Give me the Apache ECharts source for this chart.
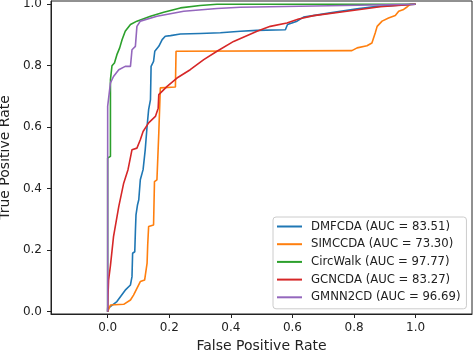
<!DOCTYPE html>
<html style="height: 100%">
<head>
    <meta charset="utf-8">
    <script src="https://cdn.jsdelivr.net/npm/echarts@6/dist/echarts.min.js"></script>
</head>
<body style="height:100%;margin:0">
    <div id="main" style="width:474px;height:353px;"></div>
    <script type="text/javascript">

        // ROC curves, points read as [fpr, tpr]
        var names = ['DMFCDA (AUC = 83.51)', 'SIMCCDA (AUC = 73.30)', 'CircWalk (AUC = 97.77)',
                     'GCNCDA (AUC = 83.27)', 'GMNN2CD (AUC = 96.69)'];
        var colors = ['#1f77b4', '#ff7f0e', '#2ca02c', '#d62728', '#9467bd'];
        var tickValues = [0, 0.2, 0.4, 0.6, 0.8, 1.0];

        var dmfcda = [[0,0],[0,0.01],[0.03,0.033],[0.057,0.07],[0.074,0.087],[0.079,0.114],[0.081,0.19],
            [0.088,0.195],[0.09,0.26],[0.092,0.315],[0.097,0.348],[0.101,0.364],[0.104,0.364],[0.106,0.429],
            [0.115,0.462],[0.122,0.527],[0.128,0.603],[0.133,0.657],[0.139,0.69],[0.141,0.798],[0.149,0.814],
            [0.153,0.847],[0.166,0.863],[0.177,0.885],[0.187,0.896],[0.204,0.898],[0.236,0.903],[0.3,0.905],
            [0.366,0.907],[0.431,0.912],[0.485,0.915],[0.577,0.917],[0.584,0.934],[0.615,0.945],[0.636,0.958],
            [0.723,0.972],[0.81,0.985],[0.875,0.993],[1,1]];

        var simccda = [[0,0],[0.009,0.022],[0.052,0.024],[0.074,0.038],[0.084,0.054],[0.095,0.076],
            [0.106,0.098],[0.12,0.103],[0.128,0.158],[0.13,0.217],[0.133,0.277],[0.149,0.282],[0.152,0.282],
            [0.152,0.423],[0.16,0.429],[0.164,0.429],[0.166,0.581],[0.171,0.581],[0.171,0.728],[0.22,0.731],
            [0.222,0.731],[0.222,0.847],[0.793,0.849],[0.81,0.858],[0.842,0.865],[0.858,0.874],[0.869,0.907],
            [0.875,0.928],[0.891,0.945],[0.912,0.955],[0.934,0.963],[0.945,0.977],[0.961,0.983],[0.972,0.991],
            [0.983,1.0],[1,1]];

        var circwalk = [[0,0],[0,0.5],[0.009,0.505],[0.009,0.755],[0.014,0.8],[0.022,0.809],[0.03,0.836],
            [0.039,0.858],[0.047,0.885],[0.057,0.912],[0.074,0.934],[0.095,0.945],[0.139,0.961],[0.182,0.974],
            [0.236,0.988],[0.3,0.996],[0.355,1.0],[1,1]];

        var gcncda = [[0,0],[0.001,0.05],[0.003,0.103],[0.009,0.15],[0.019,0.244],[0.036,0.342],[0.052,0.418],
            [0.066,0.462],[0.068,0.472],[0.079,0.527],[0.095,0.532],[0.106,0.559],[0.115,0.586],[0.133,0.614],
            [0.155,0.635],[0.164,0.662],[0.166,0.706],[0.193,0.733],[0.225,0.76],[0.268,0.787],[0.312,0.82],
            [0.355,0.847],[0.409,0.879],[0.485,0.912],[0.528,0.928],[0.582,0.939],[0.62,0.952],[0.669,0.963],
            [0.777,0.977],[0.885,0.992],[1,1]];

        var gmnn2cd = [[0,0],[0,0.668],[0.009,0.744],[0.019,0.765],[0.036,0.787],[0.057,0.798],[0.074,0.798],
            [0.079,0.852],[0.09,0.863],[0.095,0.928],[0.106,0.945],[0.16,0.961],[0.247,0.977],[0.355,0.986],
            [0.43,0.99],[0.72,0.995],[1,1]];

        var curves = [dmfcda, simccda, circwalk, gcncda, gmnn2cd];

        var font = 'DejaVu Sans';
        var txt = '#222';

        function axisBase(name, margin) {
            return {
                type: 'value',
                name: name,
                nameLocation: 'middle',
                nameTextStyle: { fontFamily: font, fontSize: 14, color: txt },
                splitLine: { show: false },
                axisLine: { show: true, onZero: false, lineStyle: { color: '#222', width: 1 } },
                axisTick: { show: true, length: 4, customValues: tickValues, lineStyle: { color: '#222' } },
                axisLabel: {
                    fontFamily: font, fontSize: 12, color: txt, margin: margin,
                    customValues: tickValues,
                    formatter: function (v) { return v.toFixed(1); }
                }
            };
        }

        var xAxis = axisBase('False Positive Rate', 8);
        xAxis.min = -0.184;
        xAxis.max = 1.183;
        xAxis.nameGap = 24;

        var yAxis = axisBase('True Positive Rate', 9);
        yAxis.min = -0.0075;
        yAxis.max = 1.0105;
        yAxis.nameGap = 37;

        var myChart = echarts.init(document.getElementById('main'));
        var option = {
            animation: false,
            grid: {
                left: 51, right: 2, top: 1, bottom: 39,
                outerBoundsMode: 'none',
                containLabel: false,
                show: true, borderColor: '#222', borderWidth: 1, backgroundColor: '#fff'
            },
            legend: {
                orient: 'vertical',
                left: 273, top: 217,
                icon: 'rect',
                itemWidth: 25, itemHeight: 2,
                itemGap: 4.7,
                padding: [3, 6, 5, 4],
                backgroundColor: 'rgba(255,255,255,0.8)',
                borderColor: '#ccc', borderWidth: 1, borderRadius: 3,
                textStyle: { fontFamily: font, fontSize: 11.7, color: txt, lineHeight: 13, padding: [0, 0, 0, 4] },
                data: names
            },
            xAxis: xAxis,
            yAxis: yAxis,
            series: curves.map(function (d, i) {
                return {
                    name: names[i],
                    type: 'line',
                    data: d,
                    showSymbol: false,
                    symbol: 'none',
                    color: colors[i],
                    lineStyle: { width: 1.6, color: colors[i] },
                    z: 2 + i
                };
            })
        };
        myChart.setOption(option);
    </script>
</body>
</html>
